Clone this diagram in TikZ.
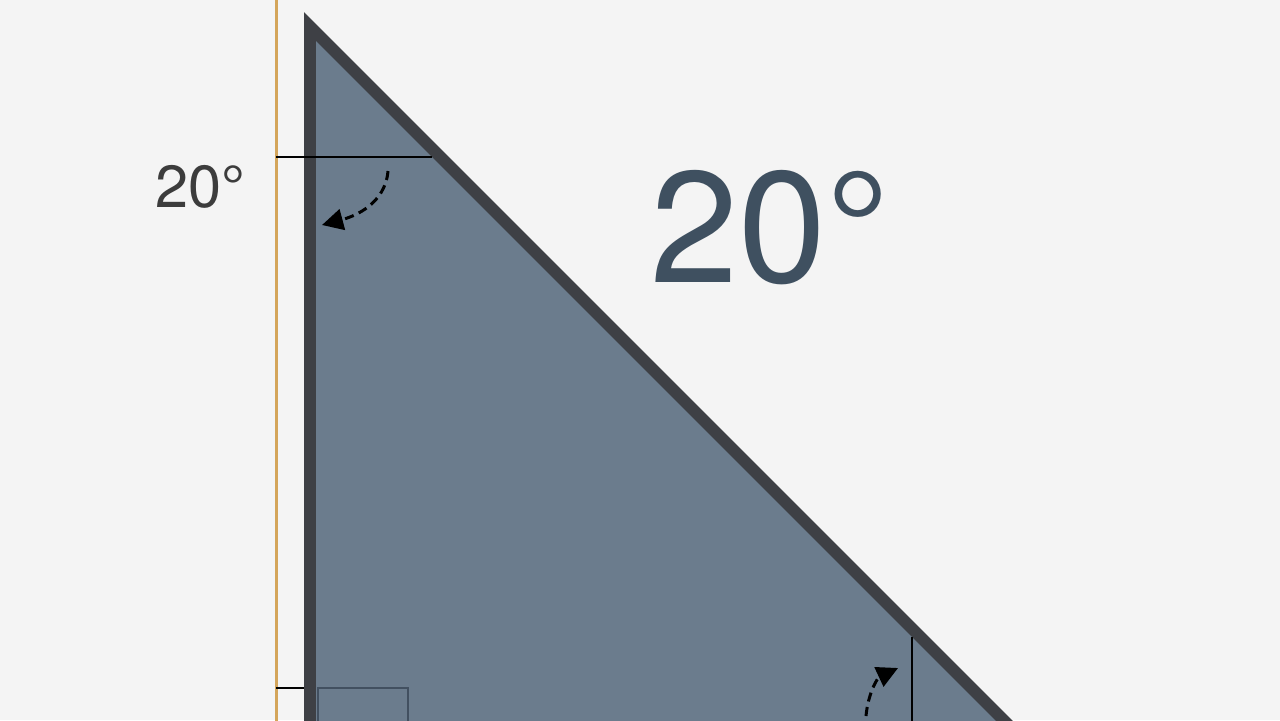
\documentclass[tikz,border=0pt]{standalone}
\usepackage{fontspec}
\setmainfont{TeX Gyre Heros}
\usepackage{tikz}
\usetikzlibrary{arrows.meta}

\definecolor{bgcol}{HTML}{F4F4F4}
\definecolor{slatefill}{HTML}{6B7C8D}
\definecolor{edgecol}{HTML}{3E4045}
\definecolor{goldcol}{HTML}{D4A55A}
\definecolor{markcol}{HTML}{425060}
\definecolor{bigtext}{HTML}{3F5060}
\definecolor{smalltext}{HTML}{3C3C3C}

\tikzset{
    guide/.style={black, line width=0.65pt},
    turn/.style={black, line width=0.85pt, dash pattern=on 2.6pt off 1.6pt, -{Triangle[length=6pt,width=6pt]}}
}

\begin{document}
\begin{tikzpicture}[x=0.01cm,y=-0.01cm]
            \fill[bgcol] (0,0) rectangle (1280,720);
            \useasboundingbox (0,0) rectangle (1280,720);
            \clip (0,0) rectangle (1280,720);

            \coordinate (A) at (310,26.5);
            \coordinate (B) at (310,820);
            \coordinate (C) at (1103.5,820);

            \draw[goldcol, line width=0.85pt] (276,-10) -- (276,730);
            \filldraw[fill=slatefill, draw=edgecol, line width=3.4pt] (A) -- (B) -- (C) -- cycle;

            \coordinate (T1) at (276,157);
            \coordinate (T2) at (432,157);
            \draw[guide] (T1) -- (T2);
            \coordinate (R1) at (912,637);
            \coordinate (R2) at (912,730);
            \draw[guide] (R1) -- (R2);
            \coordinate (Q1) at (276,688);
            \coordinate (Q2) at (304,688);
            \draw[guide] (Q1) -- (Q2);
            \draw[markcol, line width=0.65pt] (318,730) |- (408,688) -- (408,730);

            \coordinate (U1) at (388,171);
            \coordinate (U2) at (322,225);
            \draw[turn] (U1) to[out=-95, in=15] (U2);
            \coordinate (V1) at (866,716);
            \coordinate (V2) at (898,668);
            \draw[turn] (V1) to[out=85, in=205] (V2);

            \node[smalltext, font=\fontsize{16.9}{20}\selectfont, anchor=base, inner sep=0pt] (small20) at (200,207) {20°};
            \node[bigtext, font=\fontsize{45}{50}\selectfont, anchor=base, inner sep=0pt] (big20) at (770,282) {20°};
            
        \end{tikzpicture}
\end{document}
